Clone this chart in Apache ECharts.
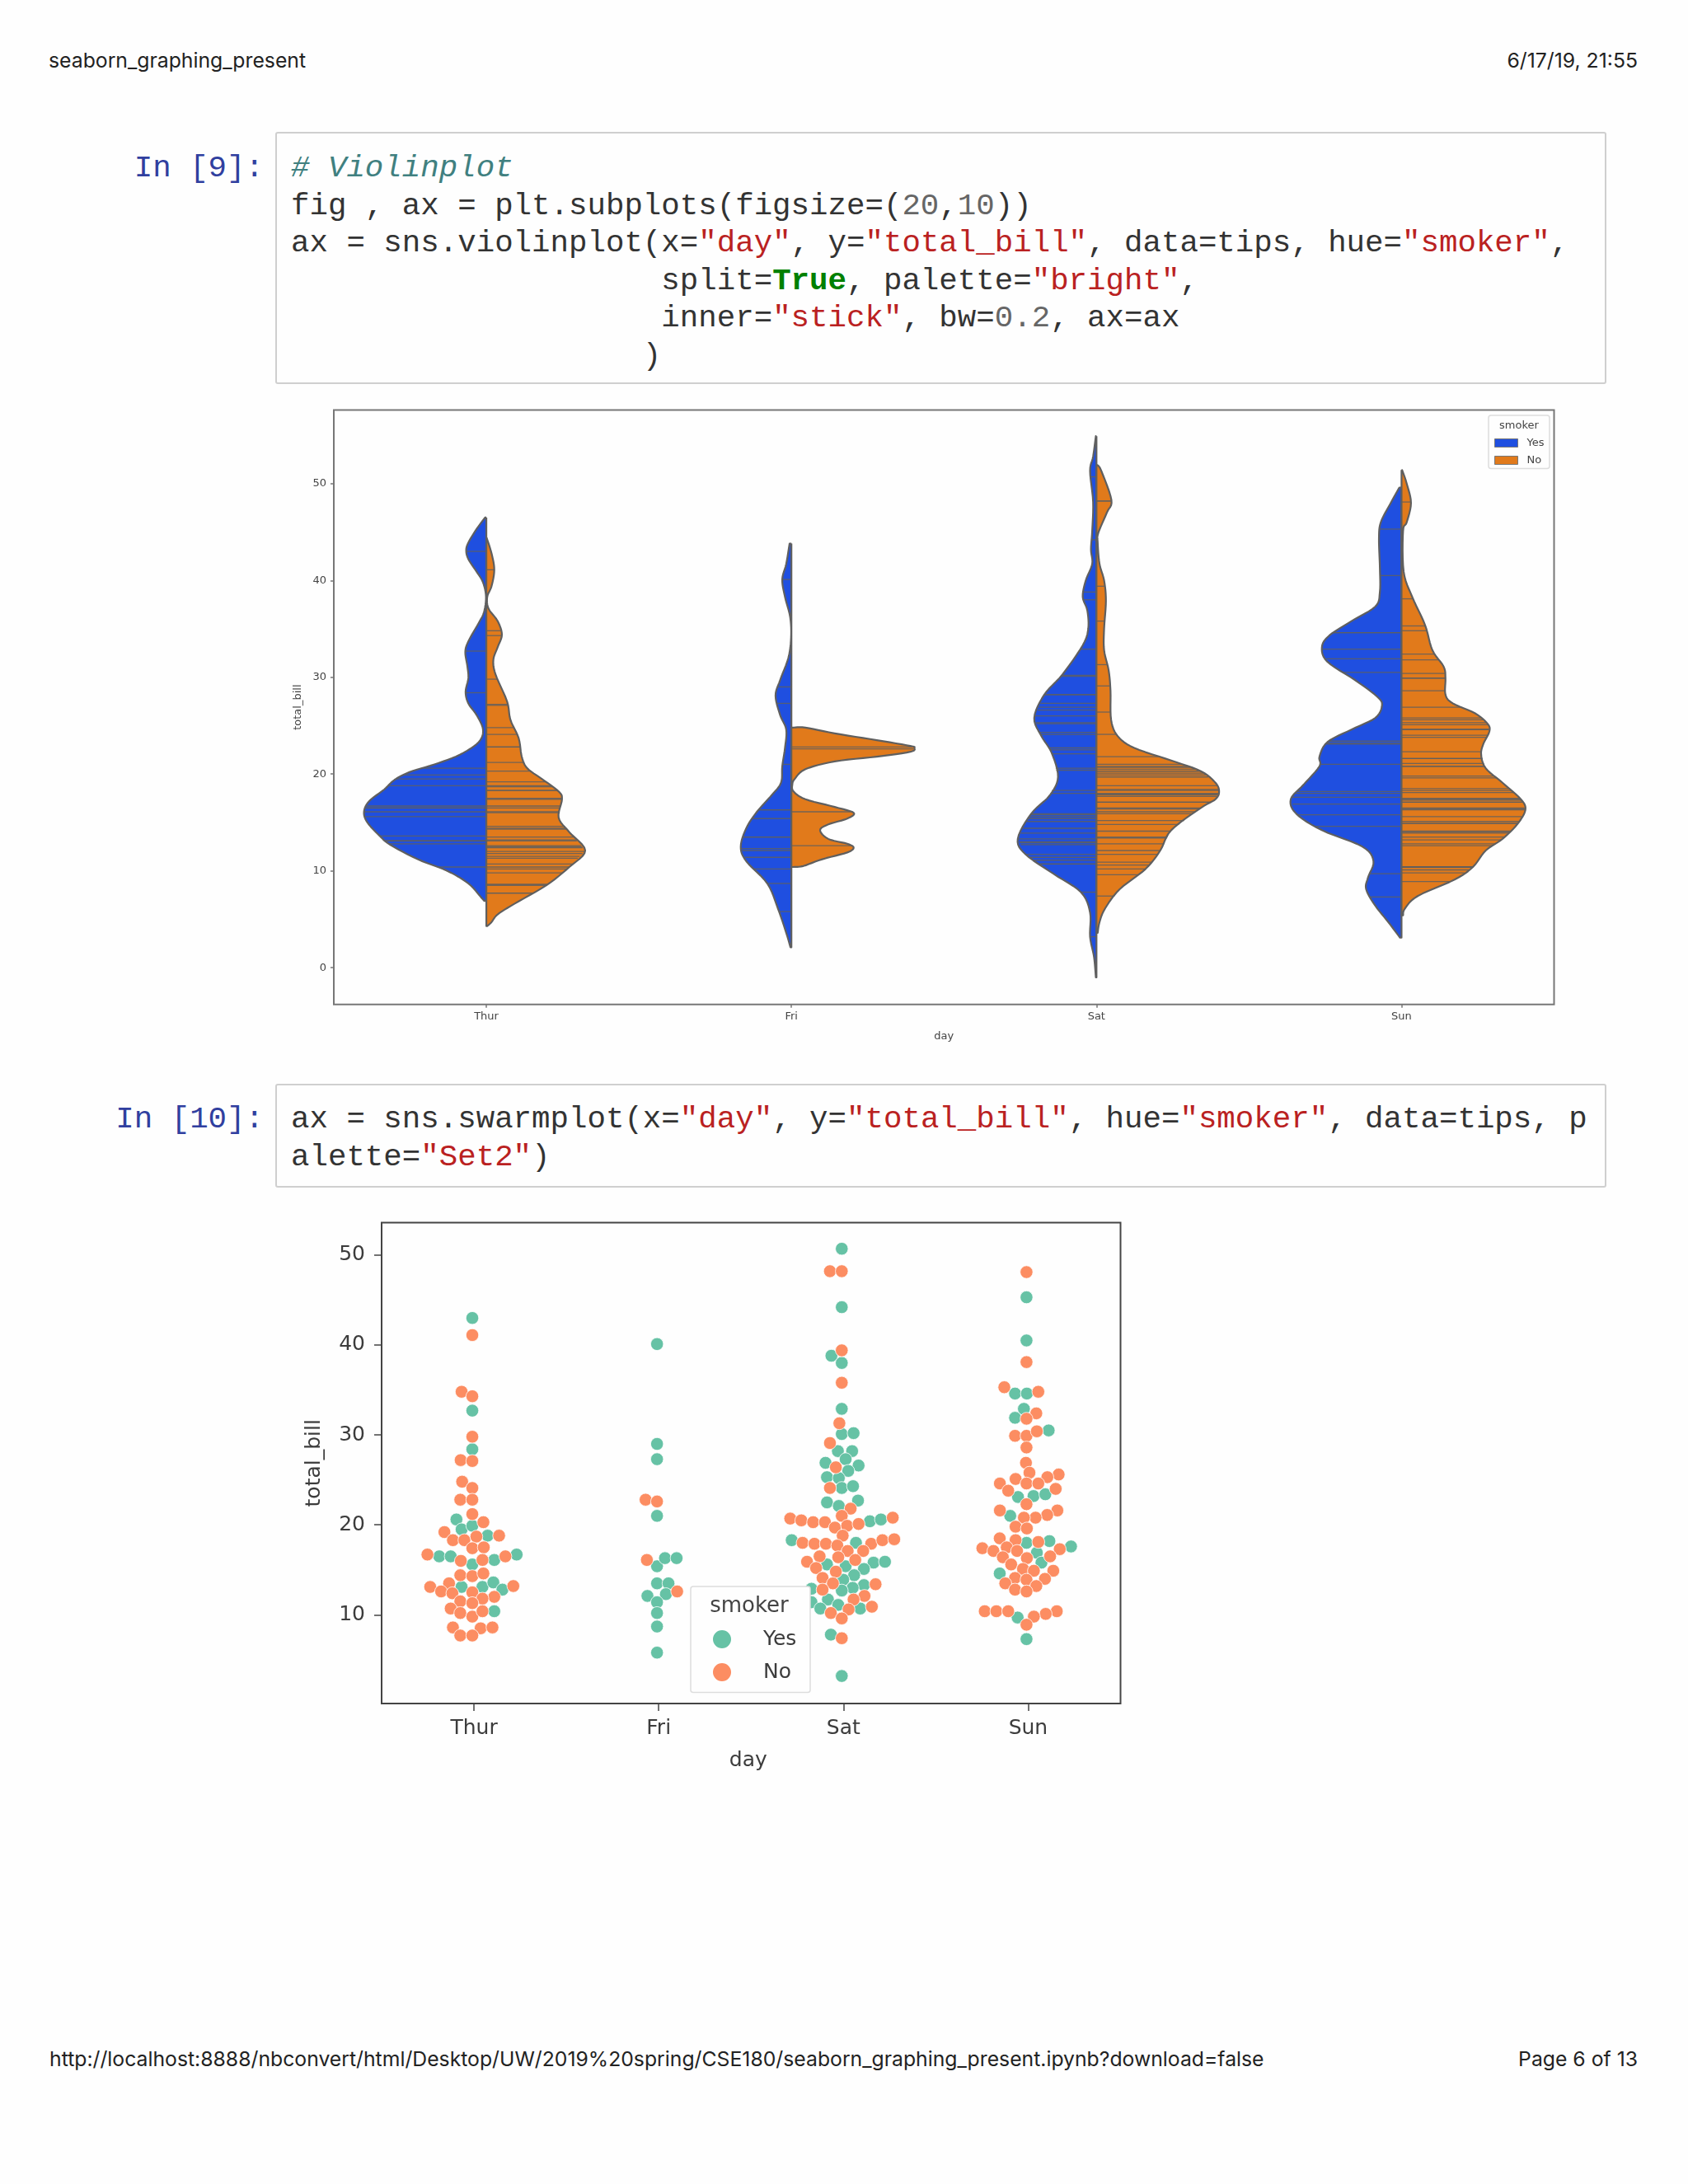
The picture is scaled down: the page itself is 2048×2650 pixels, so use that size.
<!DOCTYPE html>
<html>
<head>
<meta charset="utf-8">
<title>seaborn_graphing_present</title>
<script src="https://cdn.jsdelivr.net/npm/echarts@6/dist/echarts.min.js"></script>
<style>
  html, body { margin: 0; padding: 0; background: #fefefe; }
  #page { position: relative; width: 2048px; height: 2650px; overflow: hidden; }
  .head { position: absolute; font: 24.75px Inter, "Liberation Sans", sans-serif; color: #222; line-height: 30px; white-space: pre; }
  .box { position: absolute; box-sizing: border-box; border: 2px solid #cfcfcf; border-radius: 3px; background: #fefefe; }
  .code, .prompt { position: absolute; font: 37.45px/45.6px "Liberation Mono", monospace; white-space: pre; margin: 0; color: #333; }
  .prompt { color: #303f9f; text-align: right; }
  .c { color: #408080; font-style: italic; }
  .s { color: #ba2121; }
  .k { color: #008000; font-weight: bold; }
  .n { color: #666; }
  .chart { position: absolute; filter: blur(0.6px); }
</style>
</head>
<body>
<div id="page">
  <div class="head" style="left:59px;top:58px">seaborn_graphing_present</div>
  <div class="head" style="right:61px;top:58px">6/17/19, 21:55</div>

  <div class="prompt" style="right:1728px;top:182px">In [9]:</div>
  <div class="box" style="left:334px;top:160px;width:1615px;height:306px"></div>
  <pre class="code" style="left:353px;top:182px"><span class="c"># Violinplot</span>
fig , ax = plt.subplots(figsize=(<span class="n">20</span>,<span class="n">10</span>))
ax = sns.violinplot(x=<span class="s">"day"</span>, y=<span class="s">"total_bill"</span>, data=tips, hue=<span class="s">"smoker"</span>,
                    split=<span class="k">True</span>, palette=<span class="s">"bright"</span>,
                    inner=<span class="s">"stick"</span>, bw=<span class="n">0.2</span>, ax=ax
                   )</pre>
  <div id="violin" class="chart" style="left:340px;top:480px;width:1600px;height:800px"></div>

  <div class="prompt" style="right:1728px;top:1336px">In [10]:</div>
  <div class="box" style="left:334px;top:1315px;width:1615px;height:126px"></div>
  <pre class="code" style="left:353px;top:1336px">ax = sns.swarmplot(x=<span class="s">"day"</span>, y=<span class="s">"total_bill"</span>, hue=<span class="s">"smoker"</span>, data=tips, p
alette=<span class="s">"Set2"</span>)</pre>
  <div id="swarm" class="chart" style="left:340px;top:1470px;width:1040px;height:700px"></div>

  <div class="head" style="left:60px;top:2483px">http://localhost:8888/nbconvert/html/Desktop/UW/2019%20spring/CSE180/seaborn_graphing_present.ipynb?download=false</div>
  <div class="head" style="right:61px;top:2483px">Page 6 of 13</div>
</div>
<script>
const days = ['Thur', 'Fri', 'Sat', 'Sun']
const dayTicks = [0, 1, 2, 3]
const billTicks = [0, 10, 20, 30, 40, 50]
const swarmBillTicks = [10, 20, 30, 40, 50]

// violin outlines: [total_bill, half width in day units]
const thurYesShape = [[46.5,.004],[45.3,.032],[43.9,.059],[43.1,.066],[42.2,.059],[40.9,.032],[39.8,.011],[38.3,.001],[36.7,.008],[35.6,.025],[33.7,.059],[32.6,.069],[31.1,.062],[29.9,.059],[28.5,.068],[27.3,.059],[26.1,.032],[24.6,.011],[23.3,.025],[22.0,.087],[21.0,.170],[20.2,.252],[19.4,.301],[18.4,.335],[17.2,.384],[16.1,.401],[15.0,.390],[13.6,.349],[12.7,.315],[11.2,.225],[10.0,.128],[8.7,.059],[7.3,.018],[6.9,.007]]
const thurNoShape = [[44.4,.001],[42.8,.017],[41.1,.026],[39.4,.017],[38.3,.003],[37.1,.007],[35.8,.037],[34.4,.051],[33.1,.037],[31.8,.023],[30.3,.030],[27.5,.068],[25.6,.079],[23.7,.106],[21.8,.116],[20.6,.134],[19.5,.182],[18.2,.237],[17.4,.248],[15.5,.237],[14.0,.272],[12.1,.324],[10.4,.272],[8.5,.196],[6.6,.092],[5.5,.037],[4.7,.017],[4.3,.003]]
const friYesShape = [[43.8,.006],[41.7,.017],[40.1,.030],[38.3,.021],[36.2,.004],[34.1,.001],[32.0,.010],[29.7,.037],[28.1,.052],[26.1,.037],[24.6,.017],[22.7,.021],[20.8,.030],[19.1,.034],[17.8,.065],[16.1,.113],[14.4,.148],[12.5,.166],[11.0,.148],[8.7,.079],[6.1,.044],[3.6,.017],[2.1,.003]]
const friNoShape = [[24.8,.005],[24.8,.046],[24.2,.142],[23.5,.280],[22.9,.390],[22.7,.403],[22.3,.390],[21.8,.280],[21.3,.142],[20.5,.046],[19.5,.011],[18.9,.003],[18.2,.007],[17.4,.046],[16.6,.142],[16.0,.204],[15.4,.183],[14.8,.121],[14.2,.094],[13.3,.121],[12.8,.183],[12.4,.204],[11.9,.183],[11.2,.101],[10.5,.039],[10.4,.007]]
const satYesShape = [[54.9,.002],[52.8,.011],[51.3,.021],[48.1,.011],[45.1,.014],[43.2,.018],[41.7,.014],[40.0,.035],[38.3,.045],[36.9,.030],[35.0,.027],[33.3,.045],[30.3,.111],[28.2,.171],[25.8,.204],[23.9,.180],[22.2,.147],[19.7,.126],[17.8,.153],[15.9,.214],[13.3,.258],[11.7,.232],[9.7,.141],[7.8,.051],[5.7,.021],[3.2,.021],[1.1,.008],[-1.0,.002]]
const satNoShape = [[51.9,.004],[51.3,.016],[48.3,.049],[47.0,.034],[44.9,.006],[43.9,.004],[41.7,.010],[40.0,.025],[37.9,.031],[35.0,.025],[32.8,.025],[30.7,.040],[28.6,.046],[25.6,.048],[23.9,.070],[22.7,.124],[21.4,.245],[20.3,.342],[19.1,.390],[18.2,.402],[17.4,.390],[16.5,.342],[14.2,.245],[12.1,.209],[10.2,.161],[8.1,.076],[6.1,.028],[4.7,.010],[3.6,.004]]
const sunYesShape = [[49.6,.007],[47.9,.037],[46.0,.068],[44.3,.074],[41.3,.071],[38.8,.071],[37.3,.086],[35.8,.164],[34.3,.237],[33.1,.261],[31.6,.243],[29.7,.152],[28.0,.080],[27.1,.064],[25.8,.086],[24.6,.164],[23.3,.243],[21.8,.269],[20.8,.269],[18.9,.321],[17.4,.363],[15.9,.345],[14.2,.261],[12.5,.128],[11.0,.092],[9.3,.110],[8.1,.116],[6.4,.086],[4.7,.043],[3.1,.005]]
const sunNoShape = [[51.4,.002],[50.0,.017],[48.0,.031],[46.0,.017],[45.1,.005],[40.9,.007],[38.3,.035],[35.4,.077],[32.8,.101],[31.1,.138],[29.9,.144],[28.2,.144],[27.3,.168],[26.3,.240],[25.2,.282],[24.4,.288],[23.1,.268],[22.0,.261],[20.6,.276],[19.1,.331],[17.4,.391],[16.3,.406],[14.8,.379],[13.3,.331],[12.1,.276],[10.4,.234],[9.1,.174],[7.4,.053],[6.1,.011],[5.4,.005]]

// swarm dots: [offset from the day in day units, total_bill]
// the violin sticks are the same bills
const thurYesDots = [[0,43.0],[0,32.7],[0,28.4],[-.086,20.6],[-.058,19.5],[0,19.9],[.083,18.8],[-.179,16.5],[-.117,16.5],[.119,16.1],[.240,16.7],[0,15.6],[-.058,13.1],[.055,13.1],[.114,13.6],[.163,12.8],[.119,10.4]]
const thurNoDots = [[0,41.1],[-.058,34.8],[0,34.3],[0,29.8],[-.063,27.2],[0,27.1],[-.055,24.8],[0,24.1],[-.065,22.8],[0,22.8],[0,21.2],[.060,20.3],[-.151,19.2],[-.105,18.3],[-.043,18.3],[.022,18.7],[.145,18.8],[0,17.4],[.062,17.5],[-.243,16.7],[-.062,16.0],[.055,16.1],[.179,16.5],[-.065,14.4],[0,14.3],[.060,14.6],[-.228,13.1],[-.126,13.5],[-.169,12.6],[-.108,12.4],[0,12.5],[.222,13.2],[.119,12.0],[.055,11.8],[-.065,11.5],[0,11.3],[-.117,10.7],[-.065,10.2],[0,9.8],[.055,10.4],[-.105,8.6],[.045,8.5],[.109,8.6],[-.065,7.7],[0,7.7]]
const friYesDots = [[0,40.1],[0,29.0],[0,27.3],[0,21.0],[0,15.4],[.043,16.3],[.106,16.3],[0,13.5],[.062,13.5],[-.052,12.1],[.048,12.3],[0,11.4],[0,10.2],[0,8.7],[0,5.8]]
const friNoDots = [[-.062,22.8],[0,22.6],[-.055,16.1],[.109,12.6]]
const satYesDots = [[0,50.7],[0,44.2],[-.056,38.8],[0,38.0],[0,32.9],[0,30.1],[.064,30.2],[-.021,28.2],[.056,28.2],[.021,27.3],[-.088,26.9],[.091,26.6],[.035,26.0],[-.080,25.3],[-.016,25.2],[0,24.1],[.061,24.3],[-.080,22.5],[-.016,22.1],[.088,22.7],[.152,20.4],[.212,20.6],[-.271,18.3],[.077,18.0],[-.080,15.6],[.021,15.4],[.172,15.8],[.234,15.9],[.120,15.1],[.067,14.4],[.008,13.9],[.120,13.3],[.059,13.0],[0,12.7],[-.164,12.9],[-.164,11.4],[-.075,11.7],[-.019,11.1],[-.116,10.7],[.100,10.7],[-.059,7.8],[0,3.2]]
const satNoDots = [[-.064,48.2],[0,48.2],[0,39.4],[0,35.8],[-.013,31.3],[-.064,29.1],[-.032,26.4],[-.064,24.1],[.048,21.8],[0,21.0],[-.279,20.7],[-.219,20.5],[-.155,20.3],[-.091,20.3],[-.037,19.7],[.029,19.9],[.091,20.1],[.276,20.8],[.005,18.8],[-.212,18.0],[-.148,17.9],[-.086,17.9],[-.024,17.7],[.159,17.9],[.220,18.3],[.284,18.4],[.032,17.1],[.116,17.1],[-.120,16.5],[-.019,16.4],[.073,16.1],[-.188,15.9],[-.139,15.2],[-.032,14.8],[-.104,14.1],[-.048,13.5],[-.104,12.8],[.183,13.4],[.123,12.1],[.064,11.7],[.163,10.9],[.037,10.6],[-.059,10.2],[0,9.6],[0,7.4]]
const sunYesDots = [[0,45.3],[0,40.5],[-.062,34.6],[.002,34.6],[-.014,32.9],[-.062,31.9],[.120,30.5],[-.046,23.1],[.038,23.2],[.102,23.4],[-.088,21.0],[0,18.0],[.124,18.2],[.056,16.9],[.241,17.6],[.081,15.8],[-.145,14.6],[-.048,9.7],[0,7.3]]
const sunNoDots = [[0,48.1],[0,38.1],[-.120,35.3],[.064,34.8],[.053,32.4],[0,31.8],[-.062,29.9],[0,29.9],[.056,30.4],[0,28.6],[-.003,26.9],[.016,25.8],[.174,25.6],[.113,25.3],[-.144,24.6],[-.059,25.1],[0,24.6],[.064,24.6],[-.099,23.8],[.158,24.0],[0,22.3],[-.144,21.6],[.167,21.6],[.112,21.1],[.049,20.8],[-.014,20.8],[-.059,19.8],[.002,19.6],[-.145,18.5],[-.059,18.3],[.064,18.1],[-.239,17.4],[-.179,17.1],[-.107,17.5],[-.051,17.1],[.002,16.3],[.180,17.3],[.128,16.5],[-.128,16.4],[-.083,15.6],[-.019,15.1],[.040,14.9],[.145,14.9],[-.062,14.1],[0,13.9],[.100,14.0],[-.115,13.5],[.053,13.2],[-.062,12.8],[0,12.6],[-.226,10.4],[-.163,10.4],[-.099,10.4],[.164,10.4],[.104,10.1],[.040,9.8],[0,8.9]]

const yesShapes = [thurYesShape, friYesShape, satYesShape, sunYesShape]
const noShapes = [thurNoShape, friNoShape, satNoShape, sunNoShape]
const yesDots = [thurYesDots, friYesDots, satYesDots, sunYesDots]
const noDots = [thurNoDots, friNoDots, satNoDots, sunNoDots]

const font = '"DejaVu Sans", sans-serif'
const lineGrey = '#5f5f5f'
// the swarm sits a touch left of its tick marks in the picture
const swarmShift = -0.009

// catmull-rom through the read-off outline, so the violin edge is not faceted
function smoothLine(pts) {
  var out = []
  for (var i = 0; i < pts.length - 1; i++) {
    var p0 = pts[Math.max(i - 1, 0)], p1 = pts[i], p2 = pts[i + 1], p3 = pts[Math.min(i + 2, pts.length - 1)]
    for (var k = 0; k < 6; k++) {
      var t = k / 6, t2 = t * t, t3 = t2 * t
      out.push([0, 1].map(function (d) {
        return 0.5 * (2 * p1[d] + (p2[d] - p0[d]) * t + (2 * p0[d] - 5 * p1[d] + 4 * p2[d] - p3[d]) * t2 + (3 * p1[d] - p0[d] - 3 * p2[d] + p3[d]) * t3)
      }))
    }
  }
  out.push(pts[pts.length - 1])
  return out
}

function widthAt(shape, bill) {
  for (var i = 0; i < shape.length - 1; i++) {
    var a = shape[i], b = shape[i + 1]
    if (bill <= a[0] && bill >= b[0]) {
      return a[0] == b[0] ? a[1] : a[1] + (b[1] - a[1]) * (a[0] - bill) / (a[0] - b[0])
    }
  }
  return 0
}

function violinSide(name, color, side, shapes, dots) {
  return {
    name: name,
    type: 'custom',
    itemStyle: { color: color },
    data: dayTicks.map(function (d) { return [d] }),
    renderItem: function (params, api) {
      var day = api.value(0)
      var edge = smoothLine(shapes[day].map(function (p) { return api.coord([day + side * p[1], p[0]]) }))
      var spine = [api.coord([day, shapes[day][0][0]]), api.coord([day, shapes[day][shapes[day].length - 1][0]])]
      var children = [{
        type: 'polygon',
        shape: { points: [spine[0]].concat(edge, [spine[1]]) },
        style: { fill: color }
      }]
      dots[day].forEach(function (p) {
        var a = api.coord([day, p[1]]), e = api.coord([day + side * widthAt(shapes[day], p[1]), p[1]])
        children.push({
          type: 'line',
          shape: { x1: a[0], y1: a[1], x2: e[0], y2: e[1] },
          style: { stroke: lineGrey, lineWidth: 1.3, opacity: 0.85 }
        })
      })
      children.push({
        type: 'polyline',
        shape: { points: [spine[0]].concat(edge, [spine[1]], [spine[0]]) },
        style: { stroke: lineGrey, lineWidth: 2.2, fill: null, lineJoin: 'round' }
      })
      return { type: 'group', children: children }
    }
  }
}

function legendBox(x, y, w, h, cx, cy, size) {
  return [{
    type: 'rect',
    z: 3,
    shape: { x: x, y: y, width: w, height: h, r: 3 },
    style: { fill: '#fefefe', stroke: '#dddddd', lineWidth: 1.5 }
  }, {
    type: 'text',
    z: 3,
    x: cx,
    y: cy,
    style: { text: 'smoker', fill: '#444', font: size + 'px ' + font, textAlign: 'center', textVerticalAlign: 'middle' }
  }]
}

var violin = echarts.init(document.getElementById('violin'), null, { renderer: 'canvas' })
violin.setOption({
  animation: false,
  grid: { show: true, left: 65, top: 17.5, width: 1480.5, height: 721.3, borderColor: '#777', borderWidth: 2, backgroundColor: '#fefefe' },
  xAxis: {
    type: 'value',
    min: -0.5,
    max: 3.5,
    name: 'day',
    nameLocation: 'middle',
    nameGap: 32,
    nameTextStyle: { fontFamily: font, fontSize: 13, color: '#444' },
    splitLine: { show: false },
    axisLine: { show: false, onZero: false },
    axisTick: { show: true, length: 4, customValues: dayTicks, lineStyle: { color: '#777', width: 1.5 } },
    axisLabel: { show: true, customValues: dayTicks, margin: 8, fontFamily: font, fontSize: 13, color: '#444', formatter: function (v) { return days[v] } }
  },
  yAxis: {
    type: 'value',
    min: -3.8,
    max: 57.6,
    name: 'total_bill',
    nameLocation: 'middle',
    nameGap: 28,
    nameTextStyle: { fontFamily: font, fontSize: 13, color: '#444' },
    splitLine: { show: false },
    axisLine: { show: false, onZero: false },
    axisTick: { show: true, length: 4, customValues: billTicks, lineStyle: { color: '#777', width: 1.5 } },
    axisLabel: { show: true, customValues: billTicks, margin: 9, padding: [4, 0, 0, 0], fontFamily: font, fontSize: 13, color: '#444' }
  },
  legend: {
    selectedMode: false,
    orient: 'vertical',
    left: 1468,
    top: 46,
    itemWidth: 28,
    itemHeight: 10,
    itemGap: 8,
    padding: 5,
    icon: 'rect',
    itemStyle: { borderColor: '#777', borderWidth: 1 },
    textStyle: { fontFamily: font, fontSize: 13, color: '#444', padding: [0, 0, 0, 6] },
    data: ['Yes', 'No']
  },
  graphic: legendBox(1466, 24, 74, 64.5, 1503, 37, 13),
  series: [
    violinSide('Yes', '#1f4fe0', -1, yesShapes, yesDots),
    violinSide('No', '#e17a1b', 1, noShapes, noDots)
  ]
})

function swarmData(dots) {
  var rows = []
  dots.forEach(function (list, day) {
    list.forEach(function (p) { rows.push([day + p[0] + swarmShift, p[1]]) })
  })
  return rows
}

var swarm = echarts.init(document.getElementById('swarm'), null, { renderer: 'canvas' })
swarm.setOption({
  animation: false,
  grid: { show: true, left: 123, top: 13.5, width: 896.5, height: 583.5, borderColor: '#444', borderWidth: 2, backgroundColor: '#fefefe' },
  xAxis: {
    type: 'value',
    min: -0.5,
    max: 3.5,
    name: 'day',
    nameLocation: 'middle',
    nameGap: 57,
    nameTextStyle: { fontFamily: font, fontSize: 25, color: '#3c3c3c', padding: [0, 7, 0, 0] },
    splitLine: { show: false },
    axisLine: { show: false, onZero: false },
    axisTick: { show: true, length: 9, customValues: dayTicks, lineStyle: { color: '#444', width: 1.5 } },
    axisLabel: { show: true, customValues: dayTicks, margin: 18, fontFamily: font, fontSize: 25, color: '#3c3c3c', formatter: function (v) { return days[v] } }
  },
  yAxis: {
    type: 'value',
    min: 0.14,
    max: 53.6,
    name: 'total_bill',
    nameLocation: 'middle',
    nameGap: 69,
    nameTextStyle: { fontFamily: font, fontSize: 25, color: '#3c3c3c', padding: [0, 0, 0, 0] },
    splitLine: { show: false },
    axisLine: { show: false, onZero: false },
    axisTick: { show: true, length: 9, customValues: swarmBillTicks, lineStyle: { color: '#444', width: 1.5 } },
    axisLabel: { show: true, customValues: swarmBillTicks, margin: 20, padding: [9, 0, 0, 0], fontFamily: font, fontSize: 25, color: '#3c3c3c' }
  },
  legend: {
    selectedMode: false,
    orient: 'vertical',
    left: 518,
    top: 501,
    itemWidth: 24,
    itemHeight: 24,
    itemGap: 14,
    padding: 5,
    icon: 'circle',
    textStyle: { fontFamily: font, fontSize: 25, color: '#3c3c3c', padding: [0, 0, 4, 33] },
    data: ['Yes', 'No']
  },
  graphic: legendBox(498, 455, 145, 128.6, 569, 479, 26),
  series: [
    { name: 'Yes', type: 'scatter', symbolSize: 15.5, itemStyle: { color: '#66c2a5', borderColor: '#fff', borderWidth: 0.8, opacity: 1 }, data: swarmData(yesDots) },
    { name: 'No', type: 'scatter', symbolSize: 15.5, itemStyle: { color: '#fc8d62', borderColor: '#fff', borderWidth: 0.8, opacity: 1 }, data: swarmData(noDots) }
  ]
})
</script>
</body>
</html>
